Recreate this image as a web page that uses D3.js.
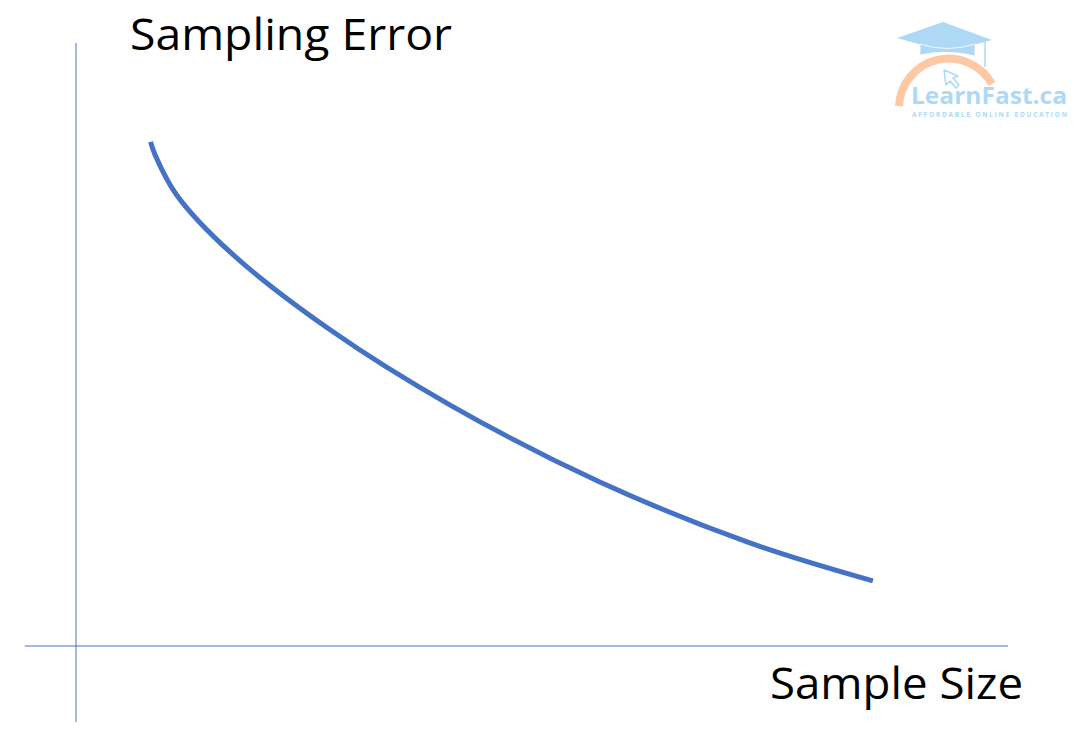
<!DOCTYPE html>
<html>
<head>
<meta charset="utf-8">
<script src="https://cdn.jsdelivr.net/npm/d3@7"></script>
<style>
  body { margin: 0; background: #fff; }
  svg { display: block; }
</style>
</head>
<body>
<div id="chart"></div>
<script>
// Curve (arbitrary units, 0-100 on both axes)
const sampleSize = [8.0, 8.5, 10.8, 16.7, 27.3, 40.1, 56.2, 72.3, 85.5];
const samplingError = [83.6, 81.4, 74.8, 65.1, 52.4, 40.0, 27.2, 17.1, 10.8];

// How far each axis line runs, in the same units
const xAxisExtent = [-5.5, 100];
const yAxisExtent = [-12.6, 100];

const xLabel = "Sample Size";
const yLabel = "Sampling Error";

const width = 1087, height = 741;
const blue = "#4472C4";

const svg = d3.select("#chart")
    .append("svg")
    .attr("width", width)
    .attr("height", height);

svg.append("rect").attr("width", width).attr("height", height).attr("fill", "#fff");

// Scales
const x = d3.scaleLinear().domain([0, 100]).range([76, 1008]);
const y = d3.scaleLinear().domain([0, 100]).range([646, 43]);

// Axis lines (no ticks in the original)
svg.append("line")
    .attr("x1", x(xAxisExtent[0])).attr("x2", x(xAxisExtent[1]))
    .attr("y1", y(0)).attr("y2", y(0))
    .attr("stroke", blue).attr("stroke-width", 1);

svg.append("line")
    .attr("x1", x(0)).attr("x2", x(0))
    .attr("y1", y(yAxisExtent[0])).attr("y2", y(yAxisExtent[1]))
    .attr("stroke", blue).attr("stroke-width", 1);

// The curve
const data = sampleSize.map((s, i) => ({ s, e: samplingError[i] }));

const line = d3.line()
    .x(d => x(d.s))
    .y(d => y(d.e))
    .curve(d3.curveCatmullRom.alpha(0.5));

svg.append("path")
    .datum(data)
    .attr("fill", "none")
    .attr("stroke", blue)
    .attr("stroke-width", 5)
    .attr("stroke-linecap", "butt")
    .attr("d", line);

// Axis titles
const font = "'Open Sans', sans-serif";

svg.append("text")
    .attr("x", 130)
    .attr("y", 50)
    .attr("font-family", font)
    .attr("font-size", 44)
    .attr("textLength", 322)
    .attr("lengthAdjust", "spacingAndGlyphs")
    .attr("fill", "#000")
    .text(yLabel);

svg.append("text")
    .attr("x", 770)
    .attr("y", 699)
    .attr("font-family", font)
    .attr("font-size", 44)
    .attr("textLength", 253)
    .attr("lengthAdjust", "spacingAndGlyphs")
    .attr("fill", "#000")
    .text(xLabel);

// LearnFast.ca logo (top right)
const logoBlue = "#AED9F4";
const logoOrange = "#FDC8A4";
const logo = svg.append("g");

logo.append("path")
    .attr("d", "M899,106 A49.7,49.7 0 0 1 992,84")
    .attr("fill", "none")
    .attr("stroke", logoOrange)
    .attr("stroke-width", 8);

// mortarboard
logo.append("path")
    .attr("d", "M897,38 L943,22 L992,40 L947,52 Z")
    .attr("fill", logoBlue);
logo.append("path")
    .attr("d", "M920,44 L920,55 Q946,49 975,56 L975,44 Q947,53 920,44 Z")
    .attr("fill", logoBlue)
    .attr("stroke", "#fff")
    .attr("stroke-width", 0.8);
logo.append("line")
    .attr("x1", 985).attr("x2", 985)
    .attr("y1", 40).attr("y2", 67)
    .attr("stroke", logoBlue).attr("stroke-width", 1.5);

// cursor
logo.append("path")
    .attr("d", "M944,70 L946,85 L950,81 L956,88 L959,85 L953,78 L958,76 Z")
    .attr("fill", "#fff")
    .attr("stroke", logoBlue)
    .attr("stroke-width", 1.5)
    .attr("stroke-linejoin", "round");

logo.append("text")
    .attr("x", 911)
    .attr("y", 104)
    .attr("font-family", "'Open Sans', sans-serif")
    .attr("font-weight", "bold")
    .attr("font-size", 23)
    .attr("textLength", 156)
    .attr("lengthAdjust", "spacingAndGlyphs")
    .attr("fill", logoBlue)
    .text("LearnFast.ca");

logo.append("text")
    .attr("x", 912)
    .attr("y", 117)
    .attr("font-family", "'Open Sans', sans-serif")
    .attr("font-weight", "bold")
    .attr("font-size", 6.5)
    .attr("textLength", 155)
    .attr("lengthAdjust", "spacing")
    .attr("fill", logoBlue)
    .text("AFFORDABLE ONLINE EDUCATION");
</script>
</body>
</html>
